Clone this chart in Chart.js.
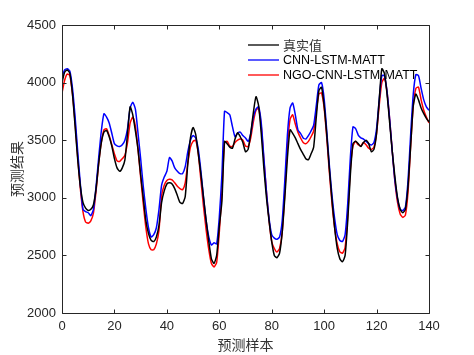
<!DOCTYPE html>
<html><head><meta charset="utf-8">
<script src="https://cdn.jsdelivr.net/npm/chart.js@4.4.0/dist/chart.umd.min.js"></script>
<style>html,body{margin:0;padding:0;background:#fff;}canvas{display:block;}</style>
</head><body>
<canvas id="c" width="474" height="355"></canvas>
<script>
const sampleIndex = Array.from({length: 141}, (_, i) => i);
const xTickValues = [0, 20, 40, 60, 80, 100, 120, 140];
const yTickValues = [2000, 2500, 3000, 3500, 4000, 4500];
const seriesNames = ['真实值', 'CNN-LSTM-MATT', 'NGO-CNN-LSTM-MATT'];
const xTitle = '预测样本';
const yTitle = '预测结果';

const trueValues = [
4000,4090,4110,4080,3900,3620,3330,3100,2960,2910,
2890,2900,2940,3080,3300,3480,3570,3585,3530,3450,
3340,3260,3230,3260,3330,3560,3790,3720,3580,3420,
3200,3000,2800,2690,2630,2620,2660,2760,2960,3060,
3120,3130,3120,3080,3020,2960,2950,3010,3300,3520,
3610,3550,3380,3200,3000,2800,2620,2470,2430,2500,
2750,2970,3490,3470,3440,3430,3510,3565,3530,3480,
3400,3420,3560,3740,3878,3800,3560,3260,3000,2800,
2620,2500,2480,2520,2700,3000,3350,3590,3560,3520,
3470,3420,3380,3340,3330,3380,3440,3700,3930,3960,
3800,3550,3250,2980,2740,2560,2470,2445,2500,2800,
3200,3470,3490,3470,3445,3480,3500,3470,3400,3420,
3560,3850,4120,4080,3900,3650,3400,3180,3000,2900,
2870,2900,3100,3450,3800,3900,3850,3780,3730,3690,
3660];

const cnnLstmMatt = [
4050,4110,4120,4100,3950,3700,3400,3120,2900,2880,
2870,2845,2900,3100,3350,3580,3730,3700,3650,3560,
3470,3450,3445,3460,3500,3600,3780,3830,3770,3560,
3340,3100,2900,2740,2660,2680,2740,2900,3110,3180,
3230,3350,3320,3260,3230,3210,3210,3270,3400,3500,
3540,3520,3420,3230,3000,2800,2660,2590,2610,2600,
2830,3200,3750,3740,3720,3620,3530,3560,3570,3540,
3520,3490,3560,3700,3770,3790,3650,3350,3050,2820,
2680,2650,2640,2660,2800,3150,3550,3780,3823,3720,
3590,3560,3520,3510,3540,3580,3630,3800,3980,4000,
3860,3580,3280,3020,2820,2680,2630,2620,2680,2950,
3350,3615,3600,3545,3520,3510,3490,3470,3458,3480,
3600,3850,4060,4060,3920,3680,3400,3150,2990,2900,
2890,2920,3150,3550,3900,4070,4060,3950,3850,3790,
3760];

const ngoCnnLstmMatt = [
3910,4020,4075,4060,3900,3650,3350,3080,2880,2790,
2780,2800,2870,3060,3300,3480,3590,3600,3540,3460,
3380,3320,3315,3340,3370,3480,3650,3700,3620,3420,
3180,2950,2740,2600,2550,2550,2600,2720,3020,3110,
3150,3160,3155,3130,3100,3080,3070,3130,3300,3440,
3490,3500,3380,3150,2920,2720,2550,2430,2400,2440,
2700,3050,3480,3490,3450,3445,3480,3500,3510,3500,
3450,3445,3520,3660,3760,3775,3620,3330,3050,2800,
2620,2560,2530,2560,2700,3050,3450,3680,3720,3640,
3570,3520,3480,3470,3490,3530,3580,3750,3900,3910,
3780,3520,3220,2950,2740,2600,2530,2520,2570,2850,
3250,3450,3490,3460,3450,3480,3460,3430,3420,3440,
3560,3800,4000,4037,3920,3680,3400,3140,2960,2860,
2830,2850,3050,3450,3800,3950,3960,3850,3760,3700,
3650];

const seriesColors = ['#000000', '#0000ff', '#ff0000'];
const seriesValues = [trueValues, cnnLstmMatt, ngoCnnLstmMatt];

const axisColor = '#262626';
const tickFont = {family: '"Liberation Sans", Arial, sans-serif', size: 13};
const cjkFont = '"Noto Sans CJK SC", sans-serif';

const framePlugin = {
  id: 'frame',
  afterDatasetsDraw(chart) {
    const {ctx, chartArea: a, scales: {x, y}} = chart;
    const L = Math.round(a.left) + 0.5, R = Math.round(a.right) + 0.5;
    const T = Math.round(a.top) + 0.5, B = Math.round(a.bottom) + 0.5;
    ctx.save();
    ctx.strokeStyle = axisColor;
    ctx.lineWidth = 1;
    ctx.beginPath();
    ctx.rect(L, T, R - L, B - T);
    x.ticks.forEach(t => {
      const px = Math.round(x.getPixelForValue(t.value)) + 0.5;
      ctx.moveTo(px, B); ctx.lineTo(px, B - 4);
      ctx.moveTo(px, T); ctx.lineTo(px, T + 4);
    });
    y.ticks.forEach(t => {
      const py = Math.round(y.getPixelForValue(t.value)) + 0.5;
      ctx.moveTo(L, py); ctx.lineTo(L + 4, py);
      ctx.moveTo(R, py); ctx.lineTo(R - 4, py);
    });
    ctx.stroke();
    ctx.restore();
  }
};

const inlineLegend = {
  id: 'inlineLegend',
  beforeDatasetsDraw(chart) {
    const {ctx, chartArea: a} = chart;
    const x0 = a.left + 186, x1 = a.left + 217, tx = a.left + 221;
    ctx.save();
    chart.data.datasets.forEach((ds, i) => {
      const yy = a.top + 20 + i * 15;
      ctx.strokeStyle = ds.borderColor;
      ctx.lineWidth = 1.3;
      ctx.beginPath();
      ctx.moveTo(x0, yy); ctx.lineTo(x1, yy);
      ctx.stroke();
      ctx.fillStyle = i === 0 ? '#333' : '#000';
      ctx.textBaseline = 'middle';
      ctx.textAlign = 'left';
      ctx.font = i === 0 ? '13px ' + cjkFont : '12.5px "Liberation Sans", Arial, sans-serif';
      ctx.fillText(ds.label, tx, yy + 0.5);
    });
    ctx.restore();
  }
};

new Chart(document.getElementById('c'), {
  type: 'line',
  data: {
    labels: sampleIndex,
    datasets: seriesNames.map((name, i) => ({
      label: name,
      data: seriesValues[i],
      borderColor: seriesColors[i],
      backgroundColor: seriesColors[i],
      borderWidth: 1.5,
      pointRadius: 0,
      tension: 0.2,
      fill: false
    }))
  },
  options: {
    responsive: false,
    animation: false,
    events: [],
    layout: {padding: {left: 0, top: 25, right: 45, bottom: 0}},
    plugins: {legend: {display: false}, tooltip: {enabled: false}},
    scales: {
      x: {
        type: 'linear', min: 0, max: 140,
        afterBuildTicks: s => { s.ticks = xTickValues.map(v => ({value: v})); },
        afterFit: s => { s.height = 42; },
        grid: {display: false, drawTicks: false},
        border: {display: false},
        ticks: {color: axisColor, font: tickFont, padding: 6, maxRotation: 0, autoSkip: false, callback: v => String(v)},
        title: {display: true, text: xTitle, color: '#333', font: {family: cjkFont, size: 14}, padding: {top: 0, bottom: 2}}
      },
      y: {
        type: 'linear', min: 2000, max: 4500,
        afterBuildTicks: s => { s.ticks = yTickValues.map(v => ({value: v})); },
        afterFit: s => { s.width = 62; },
        grid: {display: false, drawTicks: false},
        border: {display: false},
        ticks: {color: axisColor, font: tickFont, padding: 6, callback: v => String(v)},
        title: {display: true, text: yTitle, color: '#333', font: {family: cjkFont, size: 14}, padding: {top: 8, bottom: 0}}
      }
    }
  },
  plugins: [framePlugin, inlineLegend]
});
</script>
</body></html>
